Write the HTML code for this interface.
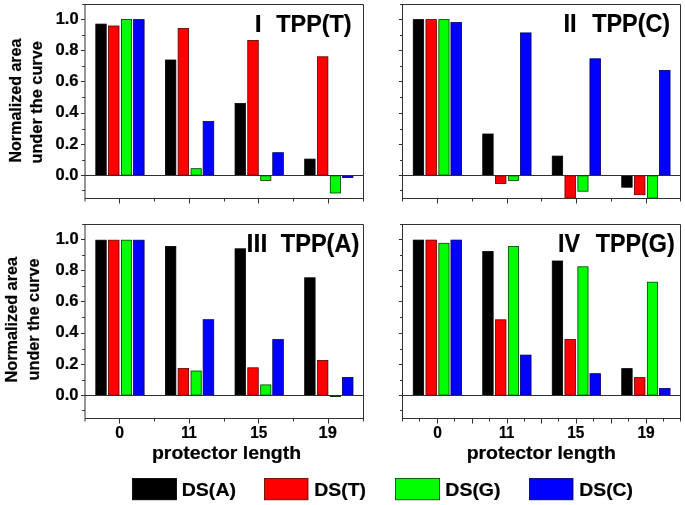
<!DOCTYPE html>
<html lang="en">
<head>
<meta charset="utf-8">
<title>Normalized area under the curve vs protector length</title>
<style>
html,body{margin:0;padding:0;background:#ffffff;}
body{width:685px;height:505px;overflow:hidden;}
svg{display:block;}
svg text{font-family:"Liberation Sans", sans-serif;font-weight:bold;fill:#000;stroke:#000;stroke-width:0.22px;stroke-linejoin:round;}
.ax{stroke:#303030;stroke-width:1;fill:none;}
</style>
</head>
<body>
<svg width="685" height="505" viewBox="0 0 685 505">
<rect x="0" y="0" width="685" height="505" fill="#ffffff"/>
<g id="panel-I">
<rect x="95.81" y="24.10" width="10.40" height="151.00" fill="#000000" stroke="#000000" stroke-width="0.8"/>
<rect x="108.51" y="26.00" width="10.50" height="149.10" fill="#ff0000" stroke="#5a0000" stroke-width="0.8"/>
<rect x="121.41" y="19.40" width="10.20" height="155.70" fill="#00ff00" stroke="#003c00" stroke-width="0.8"/>
<rect x="133.51" y="19.60" width="10.60" height="155.50" fill="#0000ff" stroke="#000064" stroke-width="0.8"/>
<rect x="165.44" y="60.00" width="10.40" height="115.10" fill="#000000" stroke="#000000" stroke-width="0.8"/>
<rect x="178.14" y="28.40" width="10.50" height="146.70" fill="#ff0000" stroke="#5a0000" stroke-width="0.8"/>
<rect x="191.04" y="168.70" width="10.20" height="6.40" fill="#00ff00" stroke="#003c00" stroke-width="0.8"/>
<rect x="203.14" y="121.50" width="10.60" height="53.60" fill="#0000ff" stroke="#000064" stroke-width="0.8"/>
<rect x="235.06" y="103.50" width="10.40" height="71.60" fill="#000000" stroke="#000000" stroke-width="0.8"/>
<rect x="247.76" y="40.40" width="10.50" height="134.70" fill="#ff0000" stroke="#5a0000" stroke-width="0.8"/>
<rect x="260.66" y="175.90" width="10.20" height="4.50" fill="#00ff00" stroke="#003c00" stroke-width="0.8"/>
<rect x="272.76" y="152.70" width="10.60" height="22.40" fill="#0000ff" stroke="#000064" stroke-width="0.8"/>
<rect x="304.69" y="159.10" width="10.40" height="16.00" fill="#000000" stroke="#000000" stroke-width="0.8"/>
<rect x="317.39" y="56.80" width="10.50" height="118.30" fill="#ff0000" stroke="#5a0000" stroke-width="0.8"/>
<rect x="330.29" y="175.90" width="10.20" height="17.10" fill="#00ff00" stroke="#003c00" stroke-width="0.8"/>
<rect x="342.39" y="175.90" width="10.60" height="1.60" fill="#0000ff" stroke="#000064" stroke-width="0.8"/>
<text transform="translate(55.54 179.80) scale(1.0000 1)" font-size="16.50">0.0</text>
<text transform="translate(55.54 148.60) scale(1.0000 1)" font-size="16.50">0.2</text>
<text transform="translate(55.54 117.40) scale(1.0000 1)" font-size="16.50">0.4</text>
<text transform="translate(55.54 86.20) scale(1.0000 1)" font-size="16.50">0.6</text>
<text transform="translate(55.54 55.00) scale(1.0000 1)" font-size="16.50">0.8</text>
<text transform="translate(55.63 23.80) scale(1.0000 1)" font-size="16.50">1.0</text>
<path class="ax" d="M82.2 4.5H363.5M85.0 198.5H363.5M85.0 4.5V201.5M363.5 4.5V201.5M81.0 175.5H363.5M82.2 190.5H85.0M82.2 160.5H85.0M81.0 144.5H85.0M82.2 129.5H85.0M81.0 113.5H85.0M82.2 97.5H85.0M81.0 81.5H85.0M82.2 66.5H85.0M81.0 50.5H85.0M82.2 35.5H85.0M81.0 19.5H85.0M119.5 198.5V203.5M154.5 198.5V201.5M189.5 198.5V203.5M224.5 198.5V201.5M258.5 198.5V203.5M293.5 198.5V201.5M328.5 198.5V203.5"/>
<text transform="translate(254.79 31.80) scale(1.0018 1)" font-size="24.78">I</text>
<text transform="translate(276.27 31.80) scale(0.9436 1)" font-size="24.78">TPP(T)</text>
</g>
<g id="panel-II">
<rect x="413.25" y="19.60" width="10.40" height="155.50" fill="#000000" stroke="#000000" stroke-width="0.8"/>
<rect x="425.95" y="19.60" width="10.50" height="155.50" fill="#ff0000" stroke="#5a0000" stroke-width="0.8"/>
<rect x="438.85" y="19.60" width="10.20" height="155.50" fill="#00ff00" stroke="#003c00" stroke-width="0.8"/>
<rect x="450.95" y="22.40" width="10.60" height="152.70" fill="#0000ff" stroke="#000064" stroke-width="0.8"/>
<rect x="482.75" y="134.00" width="10.40" height="41.10" fill="#000000" stroke="#000000" stroke-width="0.8"/>
<rect x="495.45" y="175.90" width="10.50" height="7.70" fill="#ff0000" stroke="#5a0000" stroke-width="0.8"/>
<rect x="508.35" y="175.90" width="10.20" height="4.70" fill="#00ff00" stroke="#003c00" stroke-width="0.8"/>
<rect x="520.45" y="32.90" width="10.60" height="142.20" fill="#0000ff" stroke="#000064" stroke-width="0.8"/>
<rect x="552.25" y="156.10" width="10.40" height="19.00" fill="#000000" stroke="#000000" stroke-width="0.8"/>
<rect x="564.95" y="175.90" width="10.50" height="22.20" fill="#ff0000" stroke="#5a0000" stroke-width="0.8"/>
<rect x="577.85" y="175.90" width="10.20" height="15.30" fill="#00ff00" stroke="#003c00" stroke-width="0.8"/>
<rect x="589.95" y="58.80" width="10.60" height="116.30" fill="#0000ff" stroke="#000064" stroke-width="0.8"/>
<rect x="621.75" y="175.90" width="10.40" height="11.30" fill="#000000" stroke="#000000" stroke-width="0.8"/>
<rect x="634.45" y="175.90" width="10.50" height="18.80" fill="#ff0000" stroke="#5a0000" stroke-width="0.8"/>
<rect x="647.35" y="175.90" width="10.20" height="22.20" fill="#00ff00" stroke="#003c00" stroke-width="0.8"/>
<rect x="659.45" y="70.40" width="10.60" height="104.70" fill="#0000ff" stroke="#000064" stroke-width="0.8"/>
<path class="ax" d="M400.0 4.5H680.5M402.5 198.5H680.5M402.5 4.5V201.5M680.5 4.5V201.5M398.9 175.5H680.5M400.0 190.5H402.5M400.0 160.5H402.5M398.9 144.5H402.5M400.0 129.5H402.5M398.9 113.5H402.5M400.0 97.5H402.5M398.9 81.5H402.5M400.0 66.5H402.5M398.9 50.5H402.5M400.0 35.5H402.5M398.9 19.5H402.5M437.5 198.5V203.5M472.5 198.5V201.5M507.5 198.5V203.5M541.5 198.5V201.5M576.5 198.5V203.5M611.5 198.5V201.5M646.5 198.5V203.5"/>
<text transform="translate(563.46 31.70) scale(0.9534 1)" font-size="24.93">II</text>
<text transform="translate(592.17 31.70) scale(0.9383 1)" font-size="24.93">TPP(C)</text>
</g>
<g id="panel-III">
<rect x="95.81" y="240.20" width="10.40" height="154.90" fill="#000000" stroke="#000000" stroke-width="0.8"/>
<rect x="108.51" y="240.20" width="10.50" height="154.90" fill="#ff0000" stroke="#5a0000" stroke-width="0.8"/>
<rect x="121.41" y="240.20" width="10.20" height="154.90" fill="#00ff00" stroke="#003c00" stroke-width="0.8"/>
<rect x="133.51" y="240.20" width="10.60" height="154.90" fill="#0000ff" stroke="#000064" stroke-width="0.8"/>
<rect x="165.44" y="246.40" width="10.40" height="148.70" fill="#000000" stroke="#000000" stroke-width="0.8"/>
<rect x="178.14" y="368.50" width="10.50" height="26.60" fill="#ff0000" stroke="#5a0000" stroke-width="0.8"/>
<rect x="191.04" y="371.00" width="10.20" height="24.10" fill="#00ff00" stroke="#003c00" stroke-width="0.8"/>
<rect x="203.14" y="319.70" width="10.60" height="75.40" fill="#0000ff" stroke="#000064" stroke-width="0.8"/>
<rect x="235.06" y="248.80" width="10.40" height="146.30" fill="#000000" stroke="#000000" stroke-width="0.8"/>
<rect x="247.76" y="367.80" width="10.50" height="27.30" fill="#ff0000" stroke="#5a0000" stroke-width="0.8"/>
<rect x="260.66" y="384.90" width="10.20" height="10.20" fill="#00ff00" stroke="#003c00" stroke-width="0.8"/>
<rect x="272.76" y="339.60" width="10.60" height="55.50" fill="#0000ff" stroke="#000064" stroke-width="0.8"/>
<rect x="304.69" y="277.80" width="10.40" height="117.30" fill="#000000" stroke="#000000" stroke-width="0.8"/>
<rect x="317.39" y="360.40" width="10.50" height="34.70" fill="#ff0000" stroke="#5a0000" stroke-width="0.8"/>
<rect x="330.29" y="395.90" width="10.20" height="0.70" fill="#00ff00" stroke="#003c00" stroke-width="0.8"/>
<rect x="342.39" y="377.40" width="10.60" height="17.70" fill="#0000ff" stroke="#000064" stroke-width="0.8"/>
<text transform="translate(55.54 399.80) scale(1.0000 1)" font-size="16.50">0.0</text>
<text transform="translate(55.54 368.60) scale(1.0000 1)" font-size="16.50">0.2</text>
<text transform="translate(55.54 337.40) scale(1.0000 1)" font-size="16.50">0.4</text>
<text transform="translate(55.54 306.20) scale(1.0000 1)" font-size="16.50">0.6</text>
<text transform="translate(55.54 275.00) scale(1.0000 1)" font-size="16.50">0.8</text>
<text transform="translate(55.63 243.80) scale(1.0000 1)" font-size="16.50">1.0</text>
<path class="ax" d="M82.2 224.5H363.5M85.0 418.5H363.5M85.0 224.5V421.5M363.5 224.5V421.5M81.0 395.5H363.5M82.2 410.5H85.0M82.2 380.5H85.0M81.0 364.5H85.0M82.2 349.5H85.0M81.0 333.5H85.0M82.2 317.5H85.0M81.0 301.5H85.0M82.2 286.5H85.0M81.0 270.5H85.0M82.2 255.5H85.0M81.0 239.5H85.0M119.5 418.5V423.5M154.5 418.5V421.5M189.5 418.5V423.5M224.5 418.5V421.5M258.5 418.5V423.5M293.5 418.5V421.5M328.5 418.5V423.5"/>
<text transform="translate(246.58 252.20) scale(0.9914 1)" font-size="25.07">III</text>
<text transform="translate(280.76 252.20) scale(0.9414 1)" font-size="25.07">TPP(A)</text>
</g>
<g id="panel-IV">
<rect x="413.25" y="240.10" width="10.40" height="155.00" fill="#000000" stroke="#000000" stroke-width="0.8"/>
<rect x="425.95" y="240.10" width="10.50" height="155.00" fill="#ff0000" stroke="#5a0000" stroke-width="0.8"/>
<rect x="438.85" y="243.30" width="10.20" height="151.80" fill="#00ff00" stroke="#003c00" stroke-width="0.8"/>
<rect x="450.95" y="240.10" width="10.60" height="155.00" fill="#0000ff" stroke="#000064" stroke-width="0.8"/>
<rect x="482.75" y="251.40" width="10.40" height="143.70" fill="#000000" stroke="#000000" stroke-width="0.8"/>
<rect x="495.45" y="319.80" width="10.50" height="75.30" fill="#ff0000" stroke="#5a0000" stroke-width="0.8"/>
<rect x="508.35" y="246.50" width="10.20" height="148.60" fill="#00ff00" stroke="#003c00" stroke-width="0.8"/>
<rect x="520.45" y="355.10" width="10.60" height="40.00" fill="#0000ff" stroke="#000064" stroke-width="0.8"/>
<rect x="552.25" y="261.00" width="10.40" height="134.10" fill="#000000" stroke="#000000" stroke-width="0.8"/>
<rect x="564.95" y="339.40" width="10.50" height="55.70" fill="#ff0000" stroke="#5a0000" stroke-width="0.8"/>
<rect x="577.85" y="266.80" width="10.20" height="128.30" fill="#00ff00" stroke="#003c00" stroke-width="0.8"/>
<rect x="589.95" y="373.70" width="10.60" height="21.40" fill="#0000ff" stroke="#000064" stroke-width="0.8"/>
<rect x="621.75" y="368.60" width="10.40" height="26.50" fill="#000000" stroke="#000000" stroke-width="0.8"/>
<rect x="634.45" y="377.60" width="10.50" height="17.50" fill="#ff0000" stroke="#5a0000" stroke-width="0.8"/>
<rect x="647.35" y="282.20" width="10.20" height="112.90" fill="#00ff00" stroke="#003c00" stroke-width="0.8"/>
<rect x="659.45" y="388.50" width="10.60" height="6.60" fill="#0000ff" stroke="#000064" stroke-width="0.8"/>
<path class="ax" d="M400.0 224.5H680.5M402.5 418.5H680.5M402.5 224.5V421.5M680.5 224.5V421.5M398.9 395.5H680.5M400.0 410.5H402.5M400.0 380.5H402.5M398.9 364.5H402.5M400.0 349.5H402.5M398.9 333.5H402.5M400.0 317.5H402.5M398.9 301.5H402.5M400.0 286.5H402.5M398.9 270.5H402.5M400.0 255.5H402.5M398.9 239.5H402.5M419.5 418.5V421.5M437.5 418.5V423.5M454.5 418.5V421.5M472.5 418.5V423.5M489.5 418.5V421.5M507.5 418.5V423.5M524.5 418.5V421.5M541.5 418.5V423.5M558.5 418.5V421.5M576.5 418.5V423.5M593.5 418.5V421.5M611.5 418.5V423.5M628.5 418.5V421.5M646.5 418.5V423.5M663.5 418.5V421.5"/>
<text transform="translate(557.98 252.20) scale(0.9306 1)" font-size="25.07">IV</text>
<text transform="translate(595.77 252.20) scale(0.9294 1)" font-size="25.07">TPP(G)</text>
</g>
<text transform="translate(115.27 437.50) scale(0.9611 1)" font-size="16.43">0</text>
<text transform="translate(181.13 437.50) scale(0.9083 1)" font-size="16.43">11</text>
<text transform="translate(250.30 437.50) scale(0.9369 1)" font-size="16.43">15</text>
<text transform="translate(318.53 437.50) scale(1.0004 1)" font-size="16.43">19</text>
<text transform="translate(433.28 437.50) scale(0.9483 1)" font-size="16.43">0</text>
<text transform="translate(499.06 437.50) scale(0.8831 1)" font-size="16.43">11</text>
<text transform="translate(567.30 437.50) scale(0.9369 1)" font-size="16.43">15</text>
<text transform="translate(637.39 437.50) scale(0.9462 1)" font-size="16.43">19</text>
<text transform="translate(151.93 458.90) scale(1.0379 1)" font-size="18.76">protector length</text>
<text transform="translate(466.63 458.90) scale(1.0379 1)" font-size="18.76">protector length</text>
<text transform="translate(21.00 162.54) rotate(-90) scale(1.0166 1)" font-size="15.80">Normalized area</text>
<text transform="translate(41.50 163.58) rotate(-90) scale(1.0206 1)" font-size="16.00">under the curve</text>
<text transform="translate(17.00 382.46) rotate(-90) scale(1.0290 1)" font-size="15.80">Normalized area</text>
<text transform="translate(38.70 380.48) rotate(-90) scale(0.9991 1)" font-size="16.28">under the curve</text>
<rect x="132.40" y="478.40" width="44.20" height="21.40" fill="#000000" stroke="#000000" stroke-width="0.8"/>
<text transform="translate(181.73 495.80) scale(1.0538 1)" font-size="18.55">DS(A)</text>
<rect x="264.40" y="478.40" width="43.60" height="21.40" fill="#ff0000" stroke="#5a0000" stroke-width="0.8"/>
<text transform="translate(314.34 495.80) scale(1.0443 1)" font-size="18.55">DS(T)</text>
<rect x="395.40" y="478.40" width="44.20" height="21.40" fill="#00ff00" stroke="#003c00" stroke-width="0.8"/>
<text transform="translate(445.33 495.80) scale(1.0504 1)" font-size="18.55">DS(G)</text>
<rect x="529.40" y="478.40" width="43.60" height="21.40" fill="#0000ff" stroke="#000064" stroke-width="0.8"/>
<text transform="translate(579.34 495.80) scale(1.0416 1)" font-size="18.55">DS(C)</text>
</svg>
</body>
</html>
